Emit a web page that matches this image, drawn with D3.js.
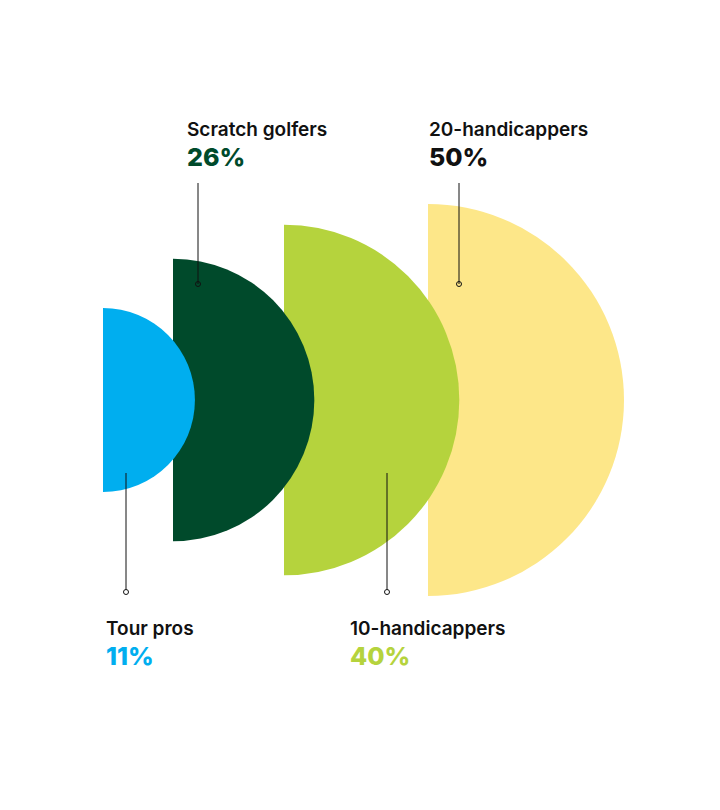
<!DOCTYPE html>
<html><head><meta charset="utf-8">
<script src="https://cdn.jsdelivr.net/npm/d3@7"></script>
<style>body{margin:0;background:#fff}</style>
</head><body>
<svg id="chart" width="720" height="810"></svg>
<script>
/* Data */
var groups = ["Tour pros", "Scratch golfers", "10-handicappers", "20-handicappers"];
var shares = [11, 26, 40, 50];
var colors = ["#00aeef", "#004a2b", "#b5d33d", "#fde789"];
var edgeX = [103, 173, 284, 428];      // flat edge of each half disc
var labelAbove = [false, true, false, true];
var labelX = [106, 187, 350, 429];
var lineX = [126, 198, 387, 459];

var svg = d3.select("#chart");
var cy = 400;
// area ~ value, so radius on a sqrt scale
var r = d3.scaleSqrt().domain([0, 50]).range([0, 196]);
var arc = d3.arc().innerRadius(0).startAngle(0).endAngle(Math.PI);

// biggest first so the smaller ones sit on top
var order = d3.range(shares.length).reverse();
svg.selectAll("path.half")
    .data(order)
    .enter()
    .append("path")
    .attr("class", "half")
    .attr("transform", function(i) { return "translate(" + edgeX[i] + "," + cy + ")"; })
    .attr("d", function(i) { return arc.outerRadius(r(shares[i]))(); })
    .attr("fill", function(i) { return colors[i]; });

/* leader lines */
shares.forEach(function(d, i) {
    var y1 = labelAbove[i] ? 183 : 473, y2 = labelAbove[i] ? 284 : 592;
    svg.append("line")
        .attr("x1", lineX[i]).attr("x2", lineX[i])
        .attr("y1", y1).attr("y2", y2)
        .attr("stroke", "#111").attr("stroke-width", 1);
    svg.append("circle")
        .attr("cx", lineX[i]).attr("cy", y2).attr("r", 2.5)
        .attr("fill", labelAbove[i] ? "none" : "#fff")
        .attr("stroke", "#111").attr("stroke-width", 1);

    var ty = labelAbove[i] ? 136 : 635;
    svg.append("text")
        .attr("x", labelX[i]).attr("y", ty)
        .attr("font-family", "Inter, sans-serif").attr("font-weight", 600)
        .attr("font-size", 19).attr("fill", "#111")
        .text(groups[i]);
    svg.append("text")
        .attr("x", labelX[i]).attr("y", ty + 30)
        .attr("font-family", "Inter, sans-serif").attr("font-weight", 800)
        .attr("font-size", 25)
        .attr("fill", i == 3 ? "#111" : colors[i])
        .text(d + "%");
});
</script>
</body></html>
